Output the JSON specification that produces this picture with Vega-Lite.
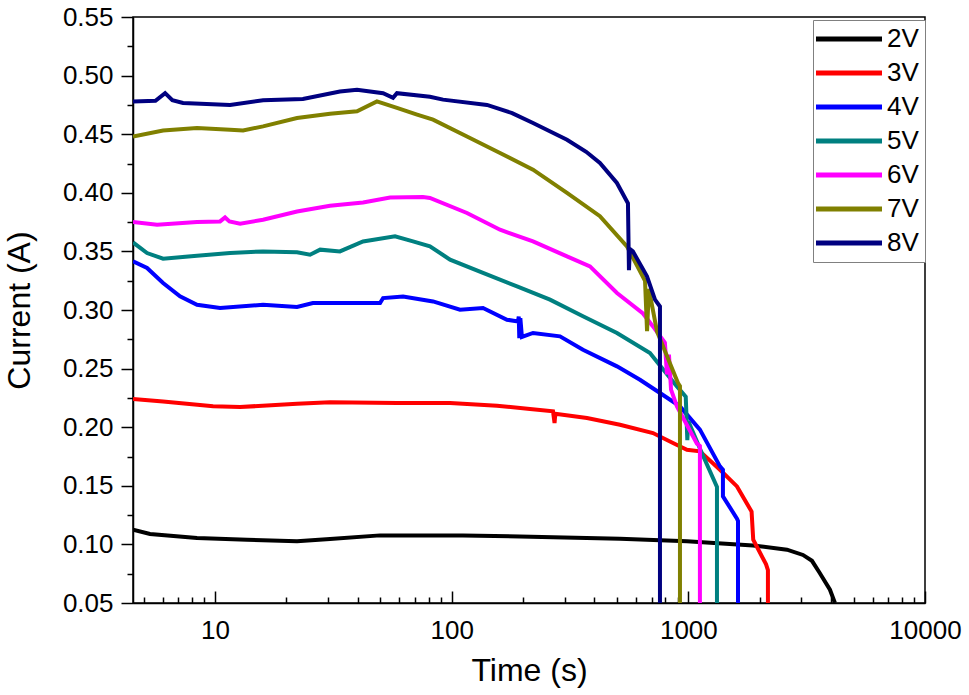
{
  "$schema": "https://vega.github.io/schema/vega-lite/v6.json",
  "width": 792,
  "height": 586,
  "autosize": {"type": "none"},
  "padding": {"left": 133, "top": 17, "right": 44, "bottom": 92},
  "background": "white",
  "config": {
    "view": {"stroke": "black", "strokeWidth": 1.5},
    "font": "Liberation Sans",
    "axis": {"grid": false, "domainColor": "black", "domainWidth": 1.5, "tickColor": "black", "tickWidth": 1.5, "labelColor": "black", "titleColor": "black", "labelFont": "Liberation Sans", "titleFont": "Liberation Sans", "labelFontSize": 26, "titleFontSize": 32, "titleFontWeight": "normal", "labelFlush": false, "labelOverlap": false, "labelBound": false}
  },
  "data": {"values": [
    {"t": 4.5, "I": 0.1126, "V": "2V"}, {"t": 5.31, "I": 0.1089, "V": "2V"}, {"t": 8.39, "I": 0.1055, "V": "2V"}, {"t": 13.65, "I": 0.104, "V": "2V"}, {"t": 22.2, "I": 0.1026, "V": "2V"}, {"t": 30.6, "I": 0.1046, "V": "2V"}, {"t": 49.8, "I": 0.1077, "V": "2V"}, {"t": 111.6, "I": 0.1077, "V": "2V"}, {"t": 194, "I": 0.1068, "V": "2V"}, {"t": 514, "I": 0.1049, "V": "2V"}, {"t": 986, "I": 0.1026, "V": "2V"}, {"t": 1875, "I": 0.0991, "V": "2V"}, {"t": 2610, "I": 0.0955, "V": "2V"}, {"t": 3050, "I": 0.091, "V": "2V"}, {"t": 3329, "I": 0.086, "V": "2V"}, {"t": 3580, "I": 0.076, "V": "2V"}, {"t": 3966, "I": 0.0613, "V": "2V"}, {"t": 4164, "I": 0.05, "V": "2V"},

    {"t": 4.5, "I": 0.224, "V": "3V"}, {"t": 6.03, "I": 0.222, "V": "3V"}, {"t": 9.81, "I": 0.2178, "V": "3V"}, {"t": 12.76, "I": 0.2172, "V": "3V"}, {"t": 22.2, "I": 0.22, "V": "3V"}, {"t": 30.6, "I": 0.2212, "V": "3V"}, {"t": 58.7, "I": 0.2206, "V": "3V"}, {"t": 98.4, "I": 0.2206, "V": "3V"}, {"t": 155.4, "I": 0.2183, "V": "3V"}, {"t": 214.2, "I": 0.2155, "V": "3V"}, {"t": 268, "I": 0.2135, "V": "3V"}, {"t": 272, "I": 0.2036, "V": "3V"}, {"t": 274, "I": 0.2115, "V": "3V"}, {"t": 372.9, "I": 0.2078, "V": "3V"}, {"t": 514, "I": 0.2021, "V": "3V"}, {"t": 708.8, "I": 0.195, "V": "3V"}, {"t": 861, "I": 0.1865, "V": "3V"}, {"t": 986.5, "I": 0.1808, "V": "3V"}, {"t": 1119, "I": 0.1794, "V": "3V"}, {"t": 1360, "I": 0.1637, "V": "3V"}, {"t": 1605, "I": 0.1495, "V": "3V"}, {"t": 1850, "I": 0.128, "V": "3V"}, {"t": 1880, "I": 0.104, "V": "3V"}, {"t": 2130, "I": 0.083, "V": "3V"}, {"t": 2169, "I": 0.078, "V": "3V"}, {"t": 2169, "I": 0.05, "V": "3V"},

    {"t": 4.5, "I": 0.3415, "V": "4V"}, {"t": 5.16, "I": 0.3358, "V": "4V"}, {"t": 6.03, "I": 0.323, "V": "4V"}, {"t": 7.11, "I": 0.3116, "V": "4V"}, {"t": 8.39, "I": 0.3045, "V": "4V"}, {"t": 10.5, "I": 0.3017, "V": "4V"}, {"t": 15.95, "I": 0.3045, "V": "4V"}, {"t": 22.2, "I": 0.3026, "V": "4V"}, {"t": 25.9, "I": 0.3059, "V": "4V"}, {"t": 49.8, "I": 0.3059, "V": "4V"}, {"t": 51.3, "I": 0.3102, "V": "4V"}, {"t": 62.3, "I": 0.3116, "V": "4V"}, {"t": 83.4, "I": 0.3073, "V": "4V"}, {"t": 108.4, "I": 0.3003, "V": "4V"}, {"t": 135.6, "I": 0.3017, "V": "4V"}, {"t": 171.2, "I": 0.2917, "V": "4V"}, {"t": 190.6, "I": 0.2903, "V": "4V"}, {"t": 192, "I": 0.2945, "V": "4V"}, {"t": 193, "I": 0.276, "V": "4V"}, {"t": 195, "I": 0.293, "V": "4V"}, {"t": 198, "I": 0.277, "V": "4V"}, {"t": 220.6, "I": 0.2804, "V": "4V"}, {"t": 286.8, "I": 0.2775, "V": "4V"}, {"t": 358.6, "I": 0.2661, "V": "4V"}, {"t": 499.3, "I": 0.2519, "V": "4V"}, {"t": 624.4, "I": 0.2405, "V": "4V"}, {"t": 759, "I": 0.2292, "V": "4V"}, {"t": 921, "I": 0.2178, "V": "4V"}, {"t": 1119, "I": 0.1979, "V": "4V"}, {"t": 1360, "I": 0.1666, "V": "4V"}, {"t": 1400, "I": 0.1637, "V": "4V"}, {"t": 1400, "I": 0.141, "V": "4V"}, {"t": 1605, "I": 0.122, "V": "4V"}, {"t": 1621, "I": 0.12, "V": "4V"}, {"t": 1621, "I": 0.05, "V": "4V"},

    {"t": 4.5, "I": 0.3577, "V": "5V"}, {"t": 5.16, "I": 0.3486, "V": "5V"}, {"t": 6.03, "I": 0.3438, "V": "5V"}, {"t": 8.39, "I": 0.3463, "V": "5V"}, {"t": 11.57, "I": 0.3486, "V": "5V"}, {"t": 15.95, "I": 0.35, "V": "5V"}, {"t": 22.2, "I": 0.3492, "V": "5V"}, {"t": 25.2, "I": 0.3472, "V": "5V"}, {"t": 27.8, "I": 0.3515, "V": "5V"}, {"t": 33.7, "I": 0.35, "V": "5V"}, {"t": 42.2, "I": 0.3585, "V": "5V"}, {"t": 57.6, "I": 0.3628, "V": "5V"}, {"t": 68.6, "I": 0.3585, "V": "5V"}, {"t": 80.9, "I": 0.3543, "V": "5V"}, {"t": 98.4, "I": 0.343, "V": "5V"}, {"t": 135.6, "I": 0.3316, "V": "5V"}, {"t": 188.8, "I": 0.3202, "V": "5V"}, {"t": 260.2, "I": 0.3088, "V": "5V"}, {"t": 358.6, "I": 0.2946, "V": "5V"}, {"t": 499.3, "I": 0.2804, "V": "5V"}, {"t": 688.4, "I": 0.2633, "V": "5V"}, {"t": 744, "I": 0.2548, "V": "5V"}, {"t": 895, "I": 0.2348, "V": "5V"}, {"t": 975, "I": 0.226, "V": "5V"}, {"t": 990, "I": 0.189, "V": "5V"}, {"t": 1000, "I": 0.205, "V": "5V"}, {"t": 1140, "I": 0.178, "V": "5V"}, {"t": 1321, "I": 0.149, "V": "5V"}, {"t": 1321, "I": 0.05, "V": "5V"},

    {"t": 4.5, "I": 0.375, "V": "6V"}, {"t": 5.69, "I": 0.3728, "V": "6V"}, {"t": 8.39, "I": 0.375, "V": "6V"}, {"t": 10.5, "I": 0.3756, "V": "6V"}, {"t": 11.02, "I": 0.379, "V": "6V"}, {"t": 11.5, "I": 0.3756, "V": "6V"}, {"t": 12.76, "I": 0.3736, "V": "6V"}, {"t": 15.95, "I": 0.377, "V": "6V"}, {"t": 22.2, "I": 0.3841, "V": "6V"}, {"t": 30.6, "I": 0.389, "V": "6V"}, {"t": 42.2, "I": 0.3918, "V": "6V"}, {"t": 54.9, "I": 0.396, "V": "6V"}, {"t": 75.6, "I": 0.3964, "V": "6V"}, {"t": 80.9, "I": 0.3956, "V": "6V"}, {"t": 116, "I": 0.3828, "V": "6V"}, {"t": 160, "I": 0.3685, "V": "6V"}, {"t": 220.6, "I": 0.3585, "V": "6V"}, {"t": 307, "I": 0.3457, "V": "6V"}, {"t": 384, "I": 0.3372, "V": "6V"}, {"t": 499.3, "I": 0.3145, "V": "6V"}, {"t": 643, "I": 0.297, "V": "6V"}, {"t": 708.8, "I": 0.286, "V": "6V"}, {"t": 796, "I": 0.272, "V": "6V"}, {"t": 812, "I": 0.245, "V": "6V"}, {"t": 828, "I": 0.262, "V": "6V"}, {"t": 845, "I": 0.232, "V": "6V"}, {"t": 895, "I": 0.2178, "V": "6V"}, {"t": 1087, "I": 0.186, "V": "6V"}, {"t": 1119, "I": 0.184, "V": "6V"}, {"t": 1119, "I": 0.05, "V": "6V"},

    {"t": 4.5, "I": 0.448, "V": "7V"}, {"t": 6.03, "I": 0.4532, "V": "7V"}, {"t": 8.39, "I": 0.4553, "V": "7V"}, {"t": 11.57, "I": 0.4538, "V": "7V"}, {"t": 13.13, "I": 0.4532, "V": "7V"}, {"t": 15.95, "I": 0.4567, "V": "7V"}, {"t": 22.2, "I": 0.4638, "V": "7V"}, {"t": 30.6, "I": 0.4675, "V": "7V"}, {"t": 39.8, "I": 0.4695, "V": "7V"}, {"t": 48.3, "I": 0.478, "V": "7V"}, {"t": 58.7, "I": 0.4724, "V": "7V"}, {"t": 71.4, "I": 0.4667, "V": "7V"}, {"t": 83.4, "I": 0.4624, "V": "7V"}, {"t": 116, "I": 0.448, "V": "7V"}, {"t": 160, "I": 0.434, "V": "7V"}, {"t": 220.6, "I": 0.4197, "V": "7V"}, {"t": 307, "I": 0.4, "V": "7V"}, {"t": 423, "I": 0.38, "V": "7V"}, {"t": 550, "I": 0.3543, "V": "7V"}, {"t": 656, "I": 0.325, "V": "7V"}, {"t": 669, "I": 0.282, "V": "7V"}, {"t": 681, "I": 0.318, "V": "7V"}, {"t": 737, "I": 0.2817, "V": "7V"}, {"t": 904, "I": 0.2377, "V": "7V"}, {"t": 921.6, "I": 0.235, "V": "7V"}, {"t": 921.6, "I": 0.05, "V": "7V"},

    {"t": 4.5, "I": 0.478, "V": "8V"}, {"t": 5.6, "I": 0.4785, "V": "8V"}, {"t": 6.15, "I": 0.485, "V": "8V"}, {"t": 6.6, "I": 0.479, "V": "8V"}, {"t": 7.32, "I": 0.4766, "V": "8V"}, {"t": 11.57, "I": 0.475, "V": "8V"}, {"t": 15.95, "I": 0.479, "V": "8V"}, {"t": 23.5, "I": 0.48, "V": "8V"}, {"t": 33.7, "I": 0.4865, "V": "8V"}, {"t": 39.8, "I": 0.488, "V": "8V"}, {"t": 51.3, "I": 0.485, "V": "8V"}, {"t": 56.5, "I": 0.481, "V": "8V"}, {"t": 58.7, "I": 0.485, "V": "8V"}, {"t": 80.9, "I": 0.482, "V": "8V"}, {"t": 91.9, "I": 0.4795, "V": "8V"}, {"t": 141, "I": 0.475, "V": "8V"}, {"t": 180, "I": 0.468, "V": "8V"}, {"t": 220.6, "I": 0.4595, "V": "8V"}, {"t": 307, "I": 0.4453, "V": "8V"}, {"t": 370, "I": 0.435, "V": "8V"}, {"t": 423, "I": 0.4254, "V": "8V"}, {"t": 499, "I": 0.4084, "V": "8V"}, {"t": 555.6, "I": 0.391, "V": "8V"}, {"t": 561, "I": 0.334, "V": "8V"}, {"t": 566, "I": 0.352, "V": "8V"}, {"t": 583, "I": 0.35, "V": "8V"}, {"t": 668.6, "I": 0.3287, "V": "8V"}, {"t": 722.8, "I": 0.3088, "V": "8V"}, {"t": 758.6, "I": 0.303, "V": "8V"}, {"t": 758.6, "I": 0.05, "V": "8V"}
  ]},
  "mark": {"type": "line", "strokeWidth": 4, "clip": true},
  "encoding": {
    "x": {
      "field": "t", "type": "quantitative",
      "scale": {"type": "log", "domain": [4.5, 10000], "nice": false},
      "axis": {
        "title": "Time (s)",
        "values": [5, 6, 7, 8, 9, 10, 20, 30, 40, 50, 60, 70, 80, 90, 100, 200, 300, 400, 500, 600, 700, 800, 900, 1000, 2000, 3000, 4000, 5000, 6000, 7000, 8000, 9000, 10000],
        "format": "d",
        "labelExpr": "indexof([10, 100, 1000, 10000], datum.value) >= 0 ? datum.label : ''",
        "tickSize": {"condition": {"test": "indexof([10, 100, 1000, 10000], datum.value) >= 0", "value": -12}, "value": -6},
        "labelPadding": 26,
        "titlePadding": 6
      }
    },
    "y": {
      "field": "I", "type": "quantitative",
      "scale": {"domain": [0.05, 0.55], "nice": false, "zero": false},
      "axis": {
        "title": "Current (A)",
        "values": [0.05, 0.075, 0.1, 0.125, 0.15, 0.175, 0.2, 0.225, 0.25, 0.275, 0.3, 0.325, 0.35, 0.375, 0.4, 0.425, 0.45, 0.475, 0.5, 0.525, 0.55],
        "labelExpr": "abs(datum.value * 20 - round(datum.value * 20)) < 0.01 ? format(datum.value, '.2f') : ''",
        "tickSize": {"condition": {"test": "abs(datum.value * 20 - round(datum.value * 20)) < 0.01", "value": 12}, "value": 6},
        "labelPadding": 8,
        "titlePadding": 26
      }
    },
    "color": {
      "field": "V", "type": "nominal",
      "scale": {"domain": ["2V", "3V", "4V", "5V", "6V", "7V", "8V"], "range": ["#000000", "#FF0000", "#0000FF", "#008080", "#FF00FF", "#808000", "#000080"]},
      "legend": {
        "title": null, "orient": "none", "legendX": 680, "legendY": 3,
        "symbolType": "M-6,0H6", "symbolSize": 121, "symbolStrokeWidth": 5, "symbolOffset": 17,
        "labelFontSize": 26, "labelFont": "Liberation Sans", "labelColor": "black",
        "rowPadding": 8, "padding": 6, "strokeColor": "#808080", "fillColor": "white", "labelOffset": 25
      }
    },
    "order": {"value": null}
  }
}
